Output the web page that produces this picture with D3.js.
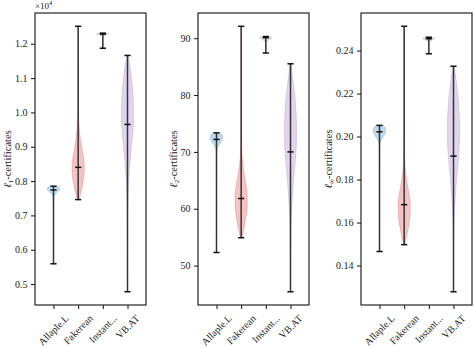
<!DOCTYPE html>
<html>
<head>
<meta charset="utf-8">
<script src="https://cdn.jsdelivr.net/npm/d3@7"></script>
<style>
  body { margin: 0; background: #fff; }
  svg { display: block; }
  text { font-family: "Liberation Serif", "DejaVu Serif", serif; fill: #222; }
</style>
</head>
<body>
<div id="chart"></div>
<script>
const families = ['Allaple.L', 'Fakerean', 'Instant...', 'VB.AT'];
const bodyColors = ['#1f77b4', '#d62728', '#7f7f7f', '#9467bd'];

// l1 certificates (raw values, axis shows x10^4)
const l1Mins = [5590, 7460, 11870, 4776];
const l1Maxs = [7850, 12510, 12310, 11660];
const l1Means = [7740, 8400, 12280, 9650];
// density outline per family: [value, relative half width]
const l1Shapes = [
  [[5590, 0], [7000, 0.01], [7400, 0.02], [7550, 0.08], [7630, 0.35], [7700, 0.75], [7760, 1.0], [7810, 0.95], [7850, 0.55]],
  [[7460, 0.1], [7600, 0.35], [7800, 0.6], [8100, 0.9], [8400, 1.0], [8700, 0.85], [9000, 0.55], [9300, 0.3], [9600, 0.15], [10000, 0.05], [10500, 0.02], [11500, 0.01], [12510, 0]],
  [[11870, 0], [12100, 0.01], [12220, 0.1], [12260, 0.6], [12290, 1.0], [12310, 0.5]],
  [[4776, 0], [6000, 0.01], [7000, 0.03], [7500, 0.08], [8000, 0.2], [8500, 0.4], [9000, 0.65], [9500, 0.9], [10000, 1.0], [10500, 0.9], [11000, 0.65], [11400, 0.35], [11660, 0.1]]
];

// l2 certificates
const l2Mins = [52.3, 54.9, 87.4, 45.4];
const l2Maxs = [73.35, 92.1, 90.3, 85.5];
const l2Means = [72.2, 61.8, 90.1, 70.0];
const l2Shapes = [
  [[52.3, 0], [65, 0.01], [69.5, 0.03], [70.5, 0.1], [71.2, 0.4], [71.8, 0.75], [72.4, 1.0], [72.9, 0.95], [73.35, 0.55]],
  [[54.9, 0.1], [56, 0.35], [58, 0.7], [60, 0.95], [62, 1.0], [64, 0.8], [66, 0.5], [68, 0.25], [70, 0.1], [73, 0.04], [80, 0.01], [92.1, 0]],
  [[87.4, 0], [88.5, 0.01], [89.4, 0.1], [89.8, 0.6], [90.1, 1.0], [90.3, 0.5]],
  [[45.4, 0], [52, 0.02], [56, 0.06], [59, 0.15], [62, 0.3], [65, 0.5], [68, 0.75], [71, 0.95], [74, 1.0], [77, 0.9], [80, 0.7], [83, 0.35], [85.5, 0.1]]
];

// l-infinity certificates
const linfMins = [0.1465, 0.1497, 0.2385, 0.1278];
const linfMaxs = [0.2052, 0.2513, 0.2462, 0.2327];
const linfMeans = [0.2022, 0.1683, 0.2455, 0.1909];
const linfShapes = [
  [[0.1465, 0], [0.185, 0.01], [0.1955, 0.03], [0.1975, 0.12], [0.199, 0.4], [0.2005, 0.75], [0.2025, 1.0], [0.204, 0.95], [0.2052, 0.55]],
  [[0.1497, 0.1], [0.153, 0.35], [0.158, 0.7], [0.163, 0.95], [0.168, 1.0], [0.173, 0.8], [0.178, 0.5], [0.183, 0.25], [0.188, 0.1], [0.195, 0.04], [0.21, 0.01], [0.2513, 0]],
  [[0.2385, 0], [0.242, 0.01], [0.244, 0.1], [0.245, 0.6], [0.2457, 1.0], [0.2462, 0.5]],
  [[0.1278, 0], [0.15, 0.02], [0.158, 0.06], [0.165, 0.15], [0.172, 0.3], [0.18, 0.5], [0.188, 0.75], [0.196, 0.95], [0.204, 1.0], [0.212, 0.9], [0.22, 0.7], [0.227, 0.4], [0.2327, 0.1]]
];

const l1Ticks = [5000, 6000, 7000, 8000, 9000, 10000, 11000, 12000];
const l2Ticks = [50, 60, 70, 80, 90];
const linfTicks = [0.14, 0.16, 0.18, 0.20, 0.22, 0.24];

const panels = [
  { mins: l1Mins, maxs: l1Maxs, means: l1Means, shapes: l1Shapes, ticks: l1Ticks,
    fmt: d => (d / 1e4).toFixed(1), sub: '1', left: 35, offset: true },
  { mins: l2Mins, maxs: l2Maxs, means: l2Means, shapes: l2Shapes, ticks: l2Ticks,
    fmt: d => d.toFixed(0), sub: '2', left: 198 },
  { mins: linfMins, maxs: linfMaxs, means: linfMeans, shapes: linfShapes, ticks: linfTicks,
    fmt: d => d.toFixed(2), sub: '\u221e', left: 361 }
];

const WIDTH = 474, HEIGHT = 348,
    PLOT = { top: 13, bottom: 305, width: 111 },
    FONT = 10,
    TICK = 4;

const svg = d3.select('#chart').append('svg')
    .attr('width', WIDTH)
    .attr('height', HEIGHT);

panels.forEach(p => {
    const g = svg.append('g').attr('transform', `translate(${p.left},0)`);

    const lo = d3.min(p.mins), hi = d3.max(p.maxs),
        pad = (hi - lo) * 0.05;

    const x = d3.scaleLinear().domain([0.25, 4.75]).range([0, PLOT.width]),
        y = d3.scaleLinear().domain([lo - pad, hi + pad]).range([PLOT.bottom, PLOT.top]),
        half = x(1.25) - x(1),
        cap = x(1.125) - x(1);

    // violin bodies
    families.forEach((f, i) => {
        const cx = x(i + 1);
        const area = d3.area()
            .curve(d3.curveMonotoneY)
            .y(d => y(d[0]))
            .x0(d => cx - d[1] * half)
            .x1(d => cx + d[1] * half);
        g.append('path')
            .datum(p.shapes[i].slice().sort((a, b) => b[0] - a[0]))
            .attr('d', area)
            .attr('fill', bodyColors[i])
            .attr('fill-opacity', 0.28)
            .attr('stroke', bodyColors[i])
            .attr('stroke-opacity', 0.25)
            .attr('stroke-width', 0.9);
    });

    // center bars with min / max caps
    families.forEach((f, i) => {
        const cx = x(i + 1);
        g.append('line')
            .attr('x1', cx).attr('x2', cx)
            .attr('y1', y(p.mins[i])).attr('y2', y(p.maxs[i]))
            .attr('stroke', '#222').attr('stroke-width', 1.5)
            .attr('stroke-opacity', 0.9);
        [p.mins[i], p.maxs[i]].forEach(v => {
            g.append('line')
                .attr('x1', cx - cap).attr('x2', cx + cap)
                .attr('y1', y(v)).attr('y2', y(v))
                .attr('stroke', '#111').attr('stroke-width', 1.5);
        });
    });

    // mean markers
    families.forEach((f, i) => {
        const cx = x(i + 1);
        g.append('line')
            .attr('x1', cx - cap).attr('x2', cx + cap)
            .attr('y1', y(p.means[i])).attr('y2', y(p.means[i]))
            .attr('stroke', '#111').attr('stroke-width', 1.5);
    });

    // frame
    g.append('rect')
        .attr('x', 0).attr('y', PLOT.top)
        .attr('width', PLOT.width).attr('height', PLOT.bottom - PLOT.top)
        .attr('fill', 'none').attr('stroke', '#111').attr('stroke-width', 1.1);

    // y axis
    const yAxis = g.append('g')
        .call(d3.axisLeft(y).tickValues(p.ticks).tickFormat(p.fmt)
            .tickSize(TICK).tickPadding(3.5));
    yAxis.select('.domain').remove();
    yAxis.selectAll('line').attr('stroke', '#111');
    yAxis.selectAll('text')
        .attr('font-size', FONT)
        .attr('font-family', '"Liberation Serif", serif')
        .attr('fill', '#222');

    // x axis with rotated family names
    const xAxis = g.append('g')
        .attr('transform', `translate(0,${PLOT.bottom})`)
        .call(d3.axisBottom(x).tickValues([1, 2, 3, 4]).tickFormat('').tickSize(TICK));
    xAxis.select('.domain').remove();
    xAxis.selectAll('line').attr('stroke', '#111');

    families.forEach((f, i) => {
        const t = g.append('text')
            .attr('font-size', FONT)
            .attr('text-anchor', 'middle')
            .attr('dominant-baseline', 'central')
            .text(f);
        const len = t.node().getComputedTextLength(),
            dy = Math.SQRT1_2 * (len + FONT) / 2;
        t.attr('transform', `translate(${x(i + 1)},${PLOT.bottom + TICK + 4 + dy}) rotate(-45)`);
    });

    // y label left of the tick labels
    const labelX = yAxis.node().getBBox().x - 4;
    const label = g.append('text')
        .attr('font-size', 10.5)
        .attr('text-anchor', 'middle')
        .attr('transform', `translate(${labelX},${(PLOT.top + PLOT.bottom) / 2}) rotate(-90)`);
    label.append('tspan').attr('font-style', 'italic').text('\u2113');
    label.append('tspan').attr('font-size', 7).attr('dy', 2).text(p.sub);
    label.append('tspan').attr('dy', -2).text('-certificates');

    if (p.offset) {
        const off = g.append('text')
            .attr('x', 0).attr('y', PLOT.top - 4)
            .attr('font-size', 9);
        off.append('tspan').text('\u00d710');
        off.append('tspan').attr('font-size', 6.5).attr('dy', -4).text('4');
    }
});
</script>
</body>
</html>
